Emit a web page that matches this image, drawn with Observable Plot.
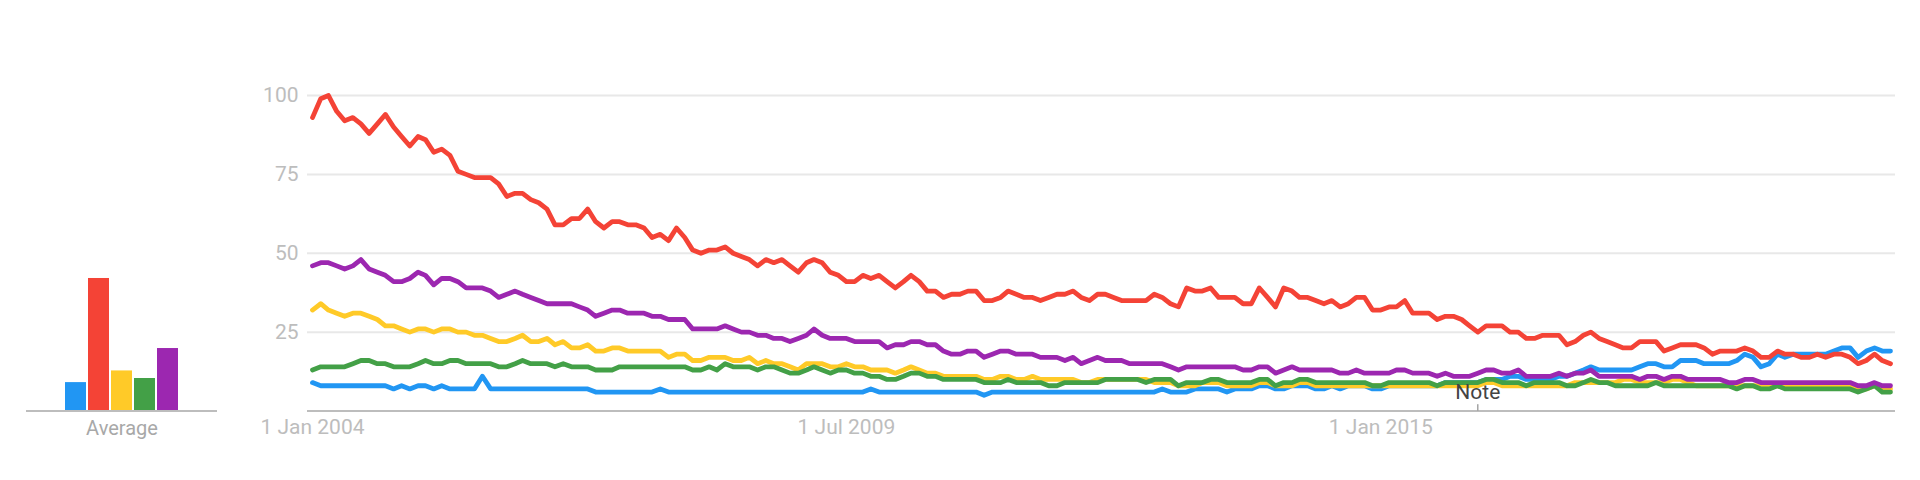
<!DOCTYPE html>
<html>
<head>
<meta charset="utf-8">
<script src="https://cdn.jsdelivr.net/npm/d3@7"></script>
<script src="https://cdn.jsdelivr.net/npm/@observablehq/plot@0.6"></script>
<style>
html,body{margin:0;padding:0;background:#fff;overflow:hidden}
#chart{display:flex;width:1920px;height:480px}
#chart svg{display:block;flex:none}
</style>
</head>
<body>
<div id="chart"></div>
<script>
const seriesNames = ["Series 1","Series 2","Series 3","Series 4","Series 5"];
const seriesColors = ["#2196F3","#F44336","#FFCA28","#43A047","#9C27B0"];
const averages = [9,42,12.7,10.3,19.8];
const yTicks = [25,50,75,100];
const xTickDates = ["2004-01-01","2009-07-01","2015-01-01"];
const noteDate = "2016-01-01";
const startDate = "2004-01-01";

const series1 = [
9,8,8,8,8,8,8,8,8,8, 7,8,7,8,8,7,8,7,7,7, 7,11,7,7,7,7,7,7,7,7, 7,7,7,7,7,6,6,6,6,6,
6,6,6,7,6,6,6,6,6,6, 6,6,6,6,6,6,6,6,6,6, 6,6,6,6,6,6,6,6,6,7, 6,6,6,6,6,6,6,6,6,6,
6,6,6,5,6,6,6,6,6,6, 6,6,6,6,6,6,6,6,6,6, 6,6,6,6,6,7,6,6,6,7, 7,7,7,6,7,7,7,8,8,7,
7,8,8,8,7,7,8,7,8,8, 8,7,7,8,8,8,8,8,8,8, 9,9,9,9,9,10,10,10,11,11, 10,10,10,10,11,11,12,13,14,13,
13,13,13,13,14,15,15,14,14,16, 16,16,15,15,15,15,16,18,17,14, 15,18,17,18,18,18,18,18,19,20, 20,17,19,20,19,19];
const series2 = [
93,99,100,95,92,93,91,88,91,94, 90,87,84,87,86,82,83,81,76,75, 74,74,74,72,68,69,69,67,66,64, 59,59,61,61,64,60,58,60,60,59,
59,58,55,56,54,58,55,51,50,51, 51,52,50,49,48,46,48,47,48,46, 44,47,48,47,44,43,41,41,43,42, 43,41,39,41,43,41,38,38,36,37,
37,38,38,35,35,36,38,37,36,36, 35,36,37,37,38,36,35,37,37,36, 35,35,35,35,37,36,34,33,39,38, 38,39,36,36,36,34,34,39,36,33,
39,38,36,36,35,34,35,33,34,36, 36,32,32,33,33,35,31,31,31,29, 30,30,29,27,25,27,27,27,25,25, 23,23,24,24,24,21,22,24,25,23,
22,21,20,20,22,22,22,19,20,21, 21,21,20,18,19,19,19,20,19,17, 17,19,18,18,17,17,18,17,18,18, 17,15,16,18,16,15];
const series3 = [
32,34,32,31,30,31,31,30,29,27, 27,26,25,26,26,25,26,26,25,25, 24,24,23,22,22,23,24,22,22,23, 21,22,20,20,21,19,19,20,20,19,
19,19,19,19,17,18,18,16,16,17, 17,17,16,16,17,15,16,15,15,14, 13,15,15,15,14,14,15,14,14,13, 13,13,12,13,14,13,12,12,11,11,
11,11,11,10,10,11,11,10,10,11, 10,10,10,10,10,9,9,10,10,10, 10,10,10,10,9,9,9,8,8,8, 9,9,9,8,8,8,8,9,9,8,
8,8,9,9,8,8,8,8,8,8, 8,8,8,8,8,8,8,8,8,8, 8,8,8,8,8,9,9,8,8,8, 8,8,8,8,8,8,9,9,9,9,
9,9,10,10,9,9,9,9,10,10, 9,8,8,8,8,8,8,8,8,8, 8,8,8,8,8,8,8,8,8,8, 8,7,7,8,7,7];
const series4 = [
13,14,14,14,14,15,16,16,15,15, 14,14,14,15,16,15,15,16,16,15, 15,15,15,14,14,15,16,15,15,15, 14,15,14,14,14,13,13,13,14,14,
14,14,14,14,14,14,14,13,13,14, 13,15,14,14,14,13,14,14,13,12, 12,13,14,13,12,13,13,12,12,11, 11,10,10,11,12,12,11,11,10,10,
10,10,10,9,9,9,10,9,9,9, 9,8,8,9,9,9,9,9,10,10, 10,10,10,9,10,10,10,8,9,9, 9,10,10,9,9,9,9,10,10,8,
9,9,10,10,9,9,9,9,9,9, 9,8,8,9,9,9,9,9,9,8, 9,9,9,9,9,10,10,9,9,9, 8,9,9,9,9,8,8,9,10,9,
9,8,8,8,8,8,9,8,8,8, 8,8,8,8,8,8,7,8,8,7, 7,8,7,7,7,7,7,7,7,7, 7,6,7,8,6,6];
const series5 = [
46,47,47,46,45,46,48,45,44,43, 41,41,42,44,43,40,42,42,41,39, 39,39,38,36,37,38,37,36,35,34, 34,34,34,33,32,30,31,32,32,31,
31,31,30,30,29,29,29,26,26,26, 26,27,26,25,25,24,24,23,23,22, 23,24,26,24,23,23,23,22,22,22, 22,20,21,21,22,22,21,21,19,18,
18,19,19,17,18,19,19,18,18,18, 17,17,17,16,17,15,16,17,16,16, 16,15,15,15,15,15,14,13,14,14, 14,14,14,14,14,13,13,14,14,12,
13,14,13,13,13,13,13,12,12,13, 12,12,12,12,13,13,12,12,12,11, 12,11,11,11,12,13,13,12,12,13, 11,11,11,11,12,11,12,12,13,11,
11,11,11,11,10,11,11,10,11,11, 10,10,10,10,10,9,9,10,10,9, 9,9,9,9,9,9,9,9,9,9, 9,8,8,9,8,8];

const seriesValues = [series1,series2,series3,series4,series5];
const start = new Date(startDate + "T00:00:00Z");
const rows = seriesNames.flatMap((name,s) =>
  seriesValues[s].map((v,i) => ({name, date:d3.utcMonth.offset(start,i), value:v})));
const avgRows = seriesNames.map((name,i) => ({name, value:averages[i]}));

const font = "Roboto, sans-serif";
const height = 480, marginTop = 95, marginBottom = 69.5;
const tickGray = "#bdbdbd";
const y = {domain:[0,100], range:[height-marginBottom, marginTop]};
const color = {domain:seriesNames, range:seriesColors};

const barPlot = Plot.plot({
  width:230, height, marginLeft:26, marginRight:13, marginTop, marginBottom,
  style:{fontFamily:font, background:"#fff"},
  x:{domain:seriesNames, range:[62,181], padding:0.08, axis:null},
  y:{...y, axis:null}, color,
  marks:[
    Plot.barY(avgRows,{x:"name", y:"value", fill:"name"}),
    Plot.ruleY([0],{stroke:"#bdbdbd", strokeWidth:2}),
    Plot.text(["Average"],{frameAnchor:"bottom", dy:24, fill:"#a8a8a8", fontSize:20})
  ]
});

const linePlot = Plot.plot({
  width:1690, height, marginLeft:77, marginRight:25, marginTop, marginBottom,
  style:{fontFamily:font, background:"#fff"},
  x:{type:"utc", domain:[start, d3.utcMonth.offset(start, series1.length-1)], range:[82,1660], axis:null},
  y:{...y, axis:null}, color,
  marks:[
    Plot.ruleY(yTicks,{stroke:"#e8e8e8", strokeWidth:2}),
    Plot.ruleY([0],{stroke:"#bdbdbd", strokeWidth:2}),
    Plot.axisY({ticks:yTicks, tickSize:0, tickPadding:9, fontSize:21, color:tickGray, label:null}),
    Plot.axisX({ticks:xTickDates.map(d=>new Date(d+"T00:00:00Z")), tickFormat:d3.utcFormat("%-d %b %Y"),
      tickSize:0, tickPadding:8, fontSize:21, color:tickGray, label:null}),
    Plot.line(rows,{x:"date", y:"value", z:"name", stroke:"name", strokeWidth:4.8, strokeLinejoin:"round"}),
    Plot.ruleX([new Date(noteDate+"T00:00:00Z")],{y1:0, y2:2, stroke:"#777", strokeWidth:1}),
    Plot.text(["Note"],{x:()=>new Date(noteDate+"T00:00:00Z"), y:()=>6, fill:"#444", fontSize:21})
  ]
});

document.getElementById("chart").append(barPlot, linePlot);
</script>
</body>
</html>
